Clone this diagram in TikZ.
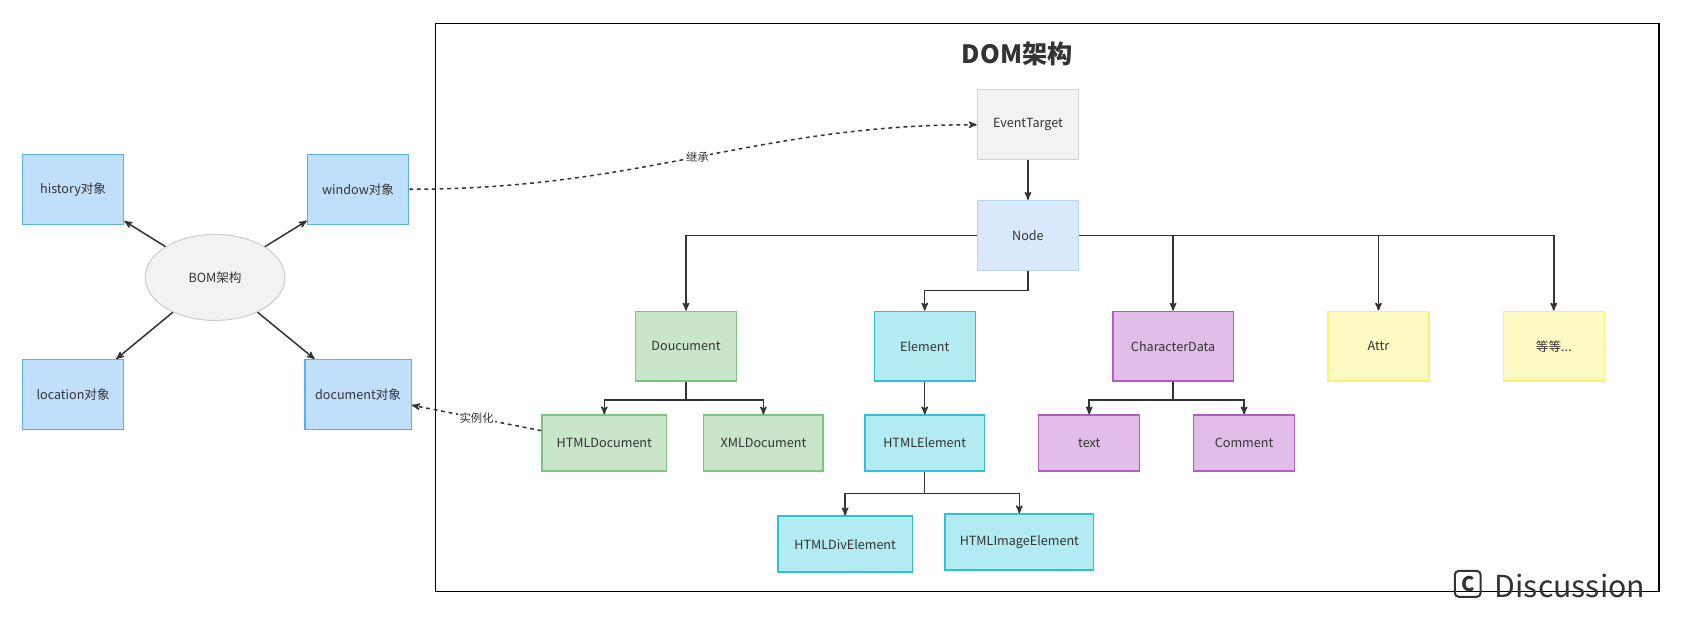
\documentclass[tikz,border=0pt]{standalone}
\usepackage{fontspec}
\setmainfont{Noto Sans CJK SC}
\usetikzlibrary{shapes,arrows}
\definecolor{bfill}{HTML}{BFDFFB}\definecolor{bdraw}{HTML}{5AAEF5}
\definecolor{gfill}{HTML}{C9E5CA}\definecolor{gdraw}{HTML}{7CC47F}
\definecolor{cfill}{HTML}{B2EBF2}\definecolor{cdraw}{HTML}{2EC0D6}
\definecolor{pfill}{HTML}{E1BEE7}\definecolor{pdraw}{HTML}{B45CC4}
\definecolor{yfill}{HTML}{FFF9C4}\definecolor{ydraw}{HTML}{FFEE70}
\definecolor{nfill}{HTML}{DAE8FC}\definecolor{ndraw}{HTML}{B8D4F5}
\definecolor{ink}{HTML}{333333}
\begin{document}
\begin{tikzpicture}[x=0.03cm,y=-0.03cm,font=\fontsize{10}{12}\selectfont,text=ink]
 % style des noeuds
  \tikzstyle{boite}=[rectangle,draw,line width=1.1pt,minimum width=94*0.03cm,minimum height=65*0.03cm,inner sep=1pt]
  \tikzstyle{bom}=[boite,fill=bfill,draw=bdraw]
  \tikzstyle{vert}=[boite,fill=gfill,draw=gdraw]
  \tikzstyle{cyan}=[boite,fill=cfill,draw=cdraw]
  \tikzstyle{violet}=[boite,fill=pfill,draw=pdraw]
  \tikzstyle{jaune}=[boite,fill=yfill,draw=ydraw]
  \tikzstyle{petit}=[minimum height=52*0.03cm]
 % style des fleches
  \tikzstyle{suite}=[->,>=stealth',line width=1.2pt,draw=ink]
  \tikzstyle{lien}=[suite,dashed]
  \useasboundingbox (0,0) rectangle (1568,574);
  \draw[line width=1.2pt,black] (405,22) rectangle (1543,550);
 % placement des noeuds
  \node[font=\fontsize{20}{24}\selectfont\bfseries] (titre) at (946,50) {DOM架构};
  \node[ellipse,draw=gray!40,thick,fill=gray!10,minimum width=130*0.03cm,minimum height=80*0.03cm] (bomarch) at (200,258) {BOM架构};
  \node[bom] (history) at (68,176) {history对象};
  \node[bom] (window) at (333,176) {window对象};
  \node[bom] (location) at (68,367) {location对象};
  \node[bom,minimum width=99*0.03cm] (document) at (333,367) {document对象};
  \node[boite,fill=gray!10,draw=gray!35] (eventtarget) at (956,116) {EventTarget};
  \node[boite,fill=nfill,draw=ndraw] (node) at (956,219) {Node};
  \node[vert] (doucument) at (638,322) {Doucument};
  \node[cyan] (element) at (860,322) {Element};
  \node[violet,minimum width=112*0.03cm] (chardata) at (1091,322) {CharacterData};
  \node[jaune] (attr) at (1282,322) {Attr};
  \node[jaune] (etc) at (1445,322) {等等...};
  \node[vert,petit,minimum width=116*0.03cm] (htmldoc) at (562,412) {HTMLDocument};
  \node[vert,petit,minimum width=111*0.03cm] (xmldoc) at (710,412) {XMLDocument};
  \node[cyan,petit,minimum width=111*0.03cm] (htmlelem) at (860,412) {HTMLElement};
  \node[violet,petit] (text) at (1013,412) {text};
  \node[violet,petit] (comment) at (1157,412) {Comment};
  \node[cyan,petit,minimum width=125*0.03cm] (divelem) at (786,506) {HTMLDivElement};
  \node[cyan,petit,minimum width=138*0.03cm] (imgelem) at (948,504) {HTMLImageElement};
  \node[text=ink,font=\fontsize{24}{28}\selectfont,anchor=west] (marque) at (1386,545) {Discussion};
  \node[draw=ink,line width=1.6pt,rounded corners=3pt,minimum width=24*0.03cm,minimum height=24*0.03cm,inner sep=0pt,font=\fontsize{16}{18}\selectfont\bfseries] (icone) at (1365,543) {C};
 % placement des fleches
  \draw[suite] (bomarch) -- (history);
  \draw[suite] (bomarch) -- (window);
  \draw[suite] (bomarch) -- (location);
  \draw[suite] (bomarch) -- (document);
  \draw[lien] (window) .. controls (600,176) and (700,116) .. (eventtarget)
     node[pos=0.5,fill=white,inner sep=1pt,font=\fontsize{9}{10}\selectfont]{继承};
  \draw[lien] (htmldoc) -- (document)
     node[pos=0.5,fill=white,inner sep=1pt,font=\fontsize{9}{10}\selectfont]{实例化};
  \draw[suite] (eventtarget) -- (node);
  \draw[suite] (node.west) -| (doucument);
  \draw[suite] (node.east) -| (chardata);
  \draw[suite] (node.east) -| (attr);
  \draw[suite] (node.east) -| (etc);
  \draw[suite] (node.south) |- (860,270) -- (element);
  \draw[suite] (doucument.south) |- (562,372) -- (htmldoc);
  \draw[suite] (doucument.south) |- (710,372) -- (xmldoc);
  \draw[suite] (element) -- (htmlelem);
  \draw[suite] (htmlelem.south) |- (786,459) -- (divelem);
  \draw[suite] (htmlelem.south) |- (948,459) -- (imgelem);
  \draw[suite] (chardata.south) |- (1013,372) -- (text);
  \draw[suite] (chardata.south) |- (1157,372) -- (comment);
\end{tikzpicture}
\end{document}
